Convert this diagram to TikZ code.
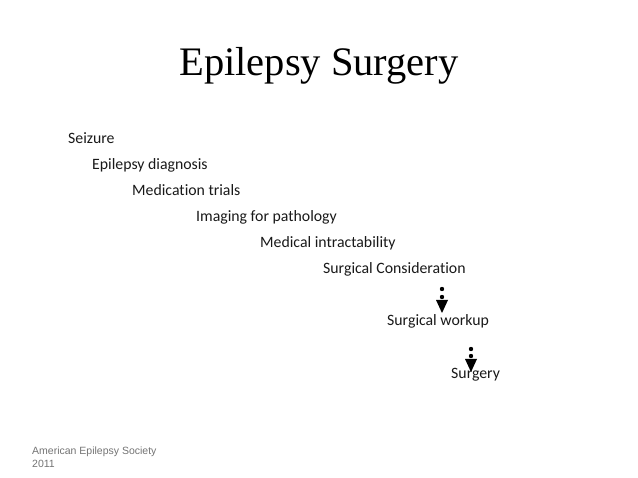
\documentclass[tikz,border=0pt]{standalone}
\usepackage{fontspec}
\setmainfont{Carlito}[Ligatures=CommonOff]
\newfontfamily\titlefont{Liberation Serif}
\newfontfamily\footfont{Liberation Sans}
\begin{document}
\begin{tikzpicture}[x=1pt,y=-1pt,
  item/.style={anchor=base west,inner sep=0pt,font=\fontsize{15.8}{19}\selectfont,text=black!90},
  foot/.style={anchor=base west,inner sep=0pt,font=\footfont\fontsize{10.5}{12}\selectfont,text=black!55},
  dotmark/.style={fill=black},
  tri/.style={fill=black}]
\useasboundingbox (0,0) rectangle (638,478);
\node[inner sep=0pt,anchor=base,font=\titlefont\fontsize{40.5}{48}\selectfont] (title) at (319,76) {Epilepsy Surgery};
\node[item] (n1) at (68,144) {Seizure};
\node[item] (n2) at (92,170) {Epilepsy diagnosis};
\node[item] (n3) at (132,196) {Medication trials};
\node[item] (n4) at (196,222) {Imaging for pathology};
\node[item] (n5) at (260,248) {Medical intractability};
\node[item] (n6) at (323,274) {Surgical Consideration};
\node[item] (n7) at (387,326) {Surgical workup};
\node[item] (n8) at (451,379) {Surgery};
\node[foot] (f1) at (32,455) {American Epilepsy Society};
\node[foot] (f2) at (32,468) {2011};
% arrow marks
\fill[dotmark] (442,289) circle (2.2);
\fill[dotmark] (442,297) circle (2.2);
\fill[tri] (436,300) -- (448,300) -- (442,313) -- cycle;
\fill[dotmark] (471,349) circle (2.2);
\fill[dotmark] (471,356) circle (2.2);
\fill[tri] (465,359) -- (477,359) -- (471,372) -- cycle;
\end{tikzpicture}
\end{document}
